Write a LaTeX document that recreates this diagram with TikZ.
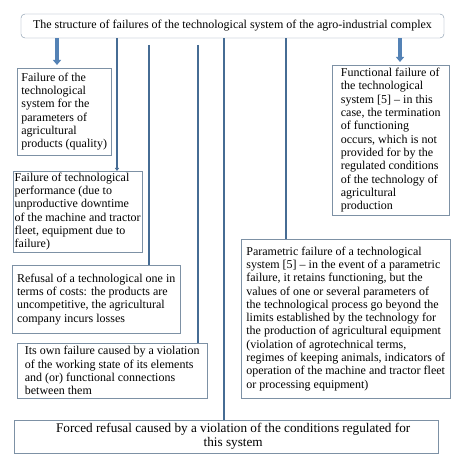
\documentclass[tikz,border=0pt]{standalone}
\usepackage{fontspec}
\setmainfont{Liberation Serif}
\usetikzlibrary{arrows.meta}
\definecolor{framegray}{RGB}{125,145,165}
\definecolor{lineblue}{RGB}{70,108,148}
\definecolor{arrowblue}{RGB}{84,130,181}
\tikzset{
  head/.style={draw=framegray,rounded corners=4pt,inner sep=0pt,minimum width=423pt,minimum height=24pt,font=\fontsize{12}{13}\selectfont},
  failbox/.style={draw=framegray,anchor=north west,align=left,inner sep=0pt,font=\fontsize{12}{13.3}\selectfont},
  link/.style={draw=lineblue,line width=2pt},
  feed/.style={draw=arrowblue,line width=3.2pt,-{Triangle[width=8pt,length=5pt]},shorten >=3pt}
}
\begin{document}
\begin{tikzpicture}[x=1pt,y=-1pt]
  \useasboundingbox (0,0) rectangle (474,468);

  % Title of the scheme
  \node[head] (top) at (232.5,26) {The structure of failures of the technological system of the agro-industrial complex};

  % Left column of failures
  \node[failbox,minimum width=94pt,minimum height=87pt] (quality) at (17,68)
    {Failure of the\\technological\\system for the\\parameters of\\agricultural\\products (quality)};
  \node[failbox,minimum width=129pt,minimum height=81pt] (perf) at (13,171)
    {Failure of technological\\performance (due to\\unproductive downtime\\of the machine and tractor\\fleet, equipment due to\\failure)};
  \node[failbox,minimum width=168pt,minimum height=68pt] (cost) at (12,265)
    {Refusal of a technological one in\\terms of costs: the products are\\uncompetitive, the agricultural\\company incurs losses};
  \node[failbox,minimum width=190pt,minimum height=55pt] (own) at (17,343)
    {Its own failure caused by a violation\\of the working state of its elements\\and (or) functional connections\\between them};

  % Right column of failures
  \node[failbox,minimum width=117pt,minimum height=150pt] (func) at (332,65)
    {Functional failure of\\the technological\\system [5] -- in this\\case, the termination\\of functioning\\occurs, which is not\\provided for by the\\regulated conditions\\of the technology of\\agricultural\\production};
  \node[failbox,minimum width=209pt,minimum height=159pt] (param) at (241,239)
    {Parametric failure of a technological\\system [5] -- in the event of a parametric\\failure, it retains functioning, but the\\values of one or several parameters of\\the technological process go beyond the\\limits established by the technology for\\the production of agricultural equipment\\(violation of agrotechnical terms,\\regimes of keeping animals, indicators of\\operation of the machine and tractor fleet\\or processing equipment)};

  % Bottom box
  \node[failbox,align=center,minimum width=424pt,minimum height=33pt,font=\fontsize{13.2}{14}\selectfont] (forced) at (14,420)
    {\hspace*{14pt}Forced refusal caused by a violation of the conditions regulated for\\\hspace*{14pt}this system};

  % Columns of the connectors
  \coordinate (xq) at (57,0);
  \coordinate (xp) at (117,0);
  \coordinate (xc) at (149,45);
  \coordinate (xo) at (198,45);
  \coordinate (xf) at (224,0);
  \coordinate (xr) at (286,0);
  \coordinate (xn) at (400,0);

  % Connectors
  \draw[feed] (top.south -| xq) -- (quality.north -| xq);
  \draw[feed] (top.south -| xn) -- (func.north -| xn);
  \draw[link,-{Triangle[width=4pt,length=3pt]}] (top.south -| xp) -- (perf.north -| xp);
  \draw[link] (xc) -- (cost.north -| xc);
  \draw[link] (xo) -- (own.north -| xo);
  \draw[link] (top.south -| xf) -- (forced.north -| xf);
  \draw[link] (top.south -| xr) -- (param.north -| xr);
\end{tikzpicture}
\end{document}
